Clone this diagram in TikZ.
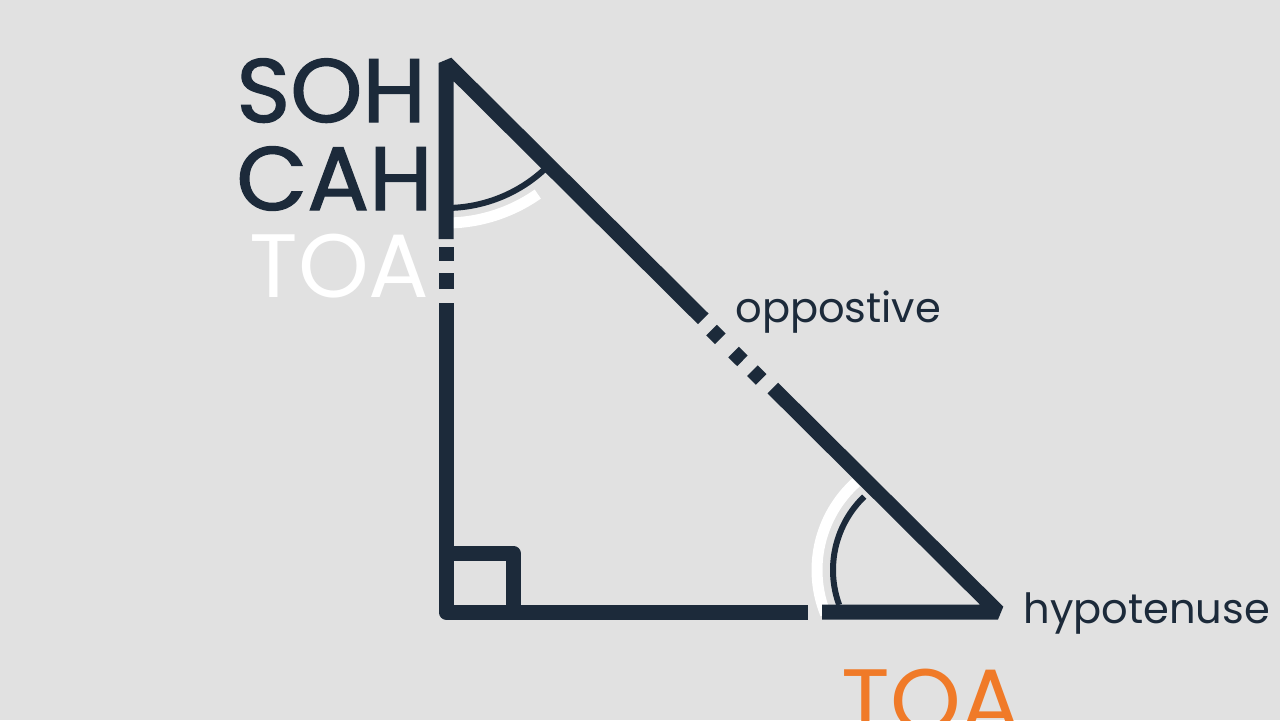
\documentclass[tikz,border=0pt]{standalone}
\usepackage{fontspec}
\setmainfont{Poppins}
\newfontfamily\sohfont[FakeBold=1.5,FakeStretch=1.02]{Poppins}
\usepackage{tikz}
\usetikzlibrary{calc}
\definecolor{trigNavy}{RGB}{28,42,58}
\definecolor{trigOrange}{RGB}{240,122,40}
\definecolor{trigBack}{RGB}{225,225,225}

\begin{document}
\begin{tikzpicture}[x=0.5pt,y=0.5pt]
	\tikzset{
		leg/.style={draw=trigNavy, line width=7.5pt},
		angarc/.style={draw=trigNavy, line width=3pt},
		glow/.style={draw=white, line width=5.5pt},
		big/.style={inner sep=0pt, anchor=base west,
			font=\sohfont\fontsize{45}{50}\selectfont},
		small/.style={inner sep=0pt, anchor=base west, text=trigNavy,
			font=\fontsize{20.8}{24}\selectfont}
	}
	\clip (0,0) rectangle (1280,720);
	\fill[trigBack] (0,0) rectangle (1280,720);
	
	% WORDS
	\node[big, text=trigNavy] (soh) at (236,598) {SOH};
	\node[big, text=trigNavy] (cah) at (236,510) {CAH};
	\node[big, text=white, font=\fontsize{45}{50}\selectfont] (toa) at (249,423) {TOA};
	\node[small] (opp) at (735,398) {oppostive};
	\node[small] (hyp) at (1023,97) {hypotenuse};
	\node[big, text=trigOrange, font=\fontsize{45}{50}\selectfont] (toaB) at (841,-12) {TOA};
	
	% CORNERS
	\coordinate (A) at (446,657);
	\coordinate (B) at (446,108);
	\coordinate (C) at (998,108);
	
	\draw[glow] (446,497) arc[start angle=270, end angle=305, radius=160];
	\draw[glow] ($(935,150)+(202:118)$) arc[start angle=202, end angle=132, radius=118];
	
	% TRIANGLE
	\draw[leg, line join=bevel] ($(A)!0.466!(C)$) -- (A) -- (446,481);
	\draw[leg] (446,473) -- (446,459);
	\draw[leg] (446,447) -- (446,431);
	\draw[leg, line join=round] (446,417) -- (B) -- (808,108);
	\draw[leg, line join=bevel] (822,108) -- (C) -- ($(A)!0.592!(C)$);
	\foreach \s/\e in {0.481/0.497, 0.521/0.537, 0.555/0.571}
		\draw[leg] ($(A)!\s!(C)+(0,-3)$) -- ($(A)!\e!(C)+(0,-3)$);
	\draw[leg, line join=round] (446,167) -- (513,167) -- (513,108);
	
	\draw[angarc] (446,512) arc[start angle=270, end angle=313, radius=145];
	\draw[angarc] ($(935,150)+(200:102)$) arc[start angle=200, end angle=134, radius=102];
\end{tikzpicture}
\end{document}
